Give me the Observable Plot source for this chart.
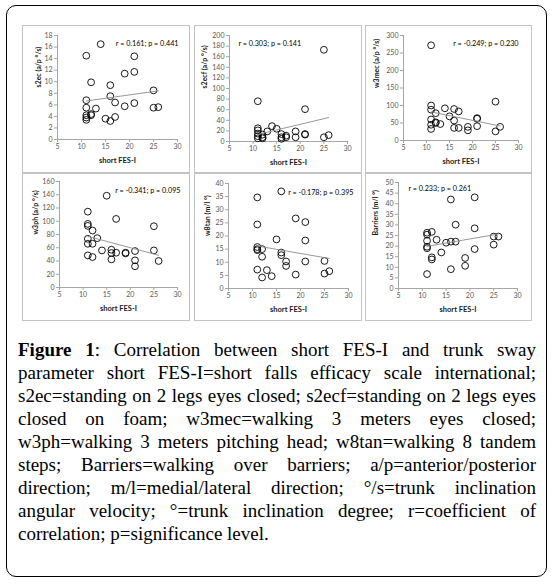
<!DOCTYPE html>
<html><head><meta charset="utf-8">
<script src="https://cdn.jsdelivr.net/npm/d3@7"></script>
<script src="https://cdn.jsdelivr.net/npm/@observablehq/plot@0.6"></script>
<style>
html,body{margin:0;padding:0;background:#fff;}
#page{position:relative;width:553px;height:584px;overflow:hidden;background:#fff;}
#frame{position:absolute;left:6px;top:5px;width:541px;height:572px;border:1.5px solid #000;border-radius:10px;box-sizing:border-box;}
.pbox{position:absolute;}
.pbox svg{position:absolute;left:0;top:0;display:block;}
.pborder{position:absolute;border:1px solid #c4c4c4;box-sizing:border-box;pointer-events:none;}
#caption{position:absolute;left:18px;top:338px;width:518px;font-family:"Liberation Serif","Times New Roman",serif;font-size:19px;line-height:23px;color:#000;}
#caption div{white-space:nowrap;}
</style></head>
<body><div id="page"><div id="frame"></div><div id="caption"></div></div>
<script>
// short FES-I score of each participant (x, shared by all panels)
const fesI = [11,11,11,11,11,11,12,12,12,13,14,15,16,16,16,17,17,19,19,21,21,21,25,25,26];
// trunk sway parameters (same participant order)
const s2ec = [14.5,6.8,5.5,4.2,3.8,3.4, 9.9,4.4,4.2, 5.35, 16.5, 3.6, 9.4,7.5,3.2, 6.4,3.9, 11.4,5.75, 14.4,11.7,6.3, 8.5,5.5, 5.6];
const s2ecf = [76,25,21,15,10,6, 13,8,6, 19, 29, 24, 14,8,5, 11,8, 19,8, 61,14,13, 173,8, 12];
const w3mec = [272,100,88,60,45,33, 78,52,50, 47, 92, 69, 90,57,36, 83,36, 39,29, 64,62,41, 111,26, 39];
const w3ph = [114.5,96,93,73.5,66,48.5, 86,66,46, 74.5, 56, 138.5, 57,52,42.5, 103.5,52.5, 52.5,51.5, 55,41,32, 92.5,56, 40];
const w8tan = [34.7,24.4,15.8,15.0,14.6,7.2, 15,12.1,4.2, 7, 4.7, 18.7, 37,13.7,12.7, 10.3,8.6, 26.7,5.3, 25.3,18.3,10.3, 10.5,5.7, 6.6];
const barriers = [26.3,25.4,22.5,19.7,19,6.8, 26.7,14.7,13.7, 23, 17, 21.6, 42,22.1,9.1, 30.1,22.1, 14.4,10.7, 43,28.4,18.6, 24.5,20.7, 24.5];

const xTitle = "short FES-I";
const xTicks = [5,10,15,20,25,30];
const yTitles = ["s2ec (a/p °/s)","s2ecf (a/p °/s)","w3mec (a/p °/s)","w3ph (a/p °/s)","w8tan (m/l °)","Barriers (m/l °)"];
const yMax = [18,200,300,160,40,50];
const yStep = [2,20,50,20,5,5];
const notes = ["r = 0.161; p = 0.441","r = 0.303; p = 0.141","r = -0.249; p = 0.230","r = -0.341; p = 0.095","r = -0.178; p = 0.395","r = 0.233; p = 0.261"];
const series = [s2ec, s2ecf, w3mec, w3ph, w8tan, barriers];

// layout (boxes, margins [top,right,bottom,left], y-title x position, note placement)
const layout = [
  {box:[22,25,168,148], m:[10,13,34,35], tx:16, side:"right", ndx:1, ndy:8},
  {box:[194,25,168,148], m:[10,15,32,35], tx:10, side:"left", ndx:9, ndy:8},
  {box:[365,25,167,148], m:[10,14,33,38], tx:11, side:"right", ndx:0, ndy:8},
  {box:[22,173,168,148], m:[8,13,34,37], tx:13, side:"right", ndx:3, ndy:9},
  {box:[194,173,168,148], m:[10,14,33,34], tx:13, side:"right", ndx:5, ndy:9},
  {box:[365,173,167,148], m:[9,15,33,33], tx:10, side:"left", ndx:10, ndy:6}
];

const page = document.getElementById("page");
const FONT = "Lato, 'Open Sans', 'Liberation Sans', sans-serif";
const axisCol = "#a6a6a6", tickText = "#595959";

series.forEach((ys, i) => {
  const L = layout[i];
  const [bx, by, bw, bh] = L.box;
  const [mT, mR, mB, mL] = L.m;
  const data = fesI.map((x, j) => ({x, y: ys[j]}));
  const yTicks = d3.range(0, yMax[i] + yStep[i] / 2, yStep[i]);
  const svg = Plot.plot({
    width: bw, height: bh,
    marginTop: mT, marginRight: mR, marginBottom: mB, marginLeft: mL,
    style: {fontFamily: FONT, fontSize: "7px", background: "transparent", color: "#404040", overflow: "visible"},
    x: {domain: [5, 30], ticks: xTicks},
    y: {domain: [0, yMax[i]], ticks: yTicks},
    marks: [
      Plot.axisX({ticks: xTicks, tickSize: 3, tickPadding: 2, stroke: axisCol, fill: tickText, fontSize: 7, label: null}),
      Plot.axisY({ticks: yTicks, tickSize: 3, tickPadding: 2, stroke: axisCol, fill: tickText, fontSize: 7, label: null}),
      Plot.ruleY([0], {stroke: axisCol}),
      Plot.ruleX([5], {stroke: axisCol}),
      Plot.dot(data, {x: "x", y: "y", r: 3.4, stroke: "#000", strokeWidth: 0.9, fill: "none"}),
      Plot.linearRegressionY(data, {x: "x", y: "y", stroke: "#8c8c8c", strokeWidth: 0.9, ci: 0}),
      Plot.text([notes[i]], {text: d => d, frameAnchor: L.side === "right" ? "top-right" : "top-left",
        textAnchor: L.side === "right" ? "end" : "start", lineAnchor: "middle",
        dx: L.ndx, dy: L.ndy, fontSize: 7.2, fill: "#000"}),
      Plot.text([xTitle], {text: d => d, frameAnchor: "bottom", lineAnchor: "middle", dy: 21, fontSize: 7.5, fontWeight: "bold", fill: "#1a1a1a"}),
      Plot.text([yTitles[i]], {text: d => d, frameAnchor: "left", rotate: -90, lineAnchor: "middle", dx: L.tx - mL, fontSize: 7, fontWeight: "bold", fill: "#1a1a1a"})
    ]
  });
  const box = document.createElement("div");
  box.className = "pbox";
  Object.assign(box.style, {left: bx + "px", top: by + "px", width: bw + "px", height: bh + "px"});
  box.appendChild(svg);
  page.appendChild(box);
  const border = document.createElement("div");
  border.className = "pborder";
  Object.assign(border.style, {left: bx + "px", top: by + "px", width: bw + "px", height: bh + "px"});
  page.appendChild(border);
});

// caption, justified line by line
const captionLines = [
  "<b>Figure 1</b>: Correlation between short FES-I and trunk sway",
  "parameter short FES-I=short falls efficacy scale international;",
  "s2ec=standing on 2 legs eyes closed; s2ecf=standing on 2 legs eyes",
  "closed on foam; w3mec=walking 3 meters eyes closed;",
  "w3ph=walking 3 meters pitching head; w8tan=walking 8 tandem",
  "steps; Barriers=walking over barriers; a/p=anterior/posterior",
  "direction; m/l=medial/lateral direction; °/s=trunk inclination",
  "angular velocity; °=trunk inclination degree; r=coefficient of",
  "correlation; p=significance level."
];
const cap = document.getElementById("caption");
const W = 518;
captionLines.forEach((line, i) => {
  const d = document.createElement("div");
  const s = document.createElement("span");
  s.innerHTML = line;
  d.appendChild(s);
  cap.appendChild(d);
  if (i < captionLines.length - 1) {
    const w = s.getBoundingClientRect().width;
    const n = (s.textContent.match(/ /g) || []).length;
    s.style.wordSpacing = ((W - w) / n) + "px";
  }
});
</script>
</body></html>
